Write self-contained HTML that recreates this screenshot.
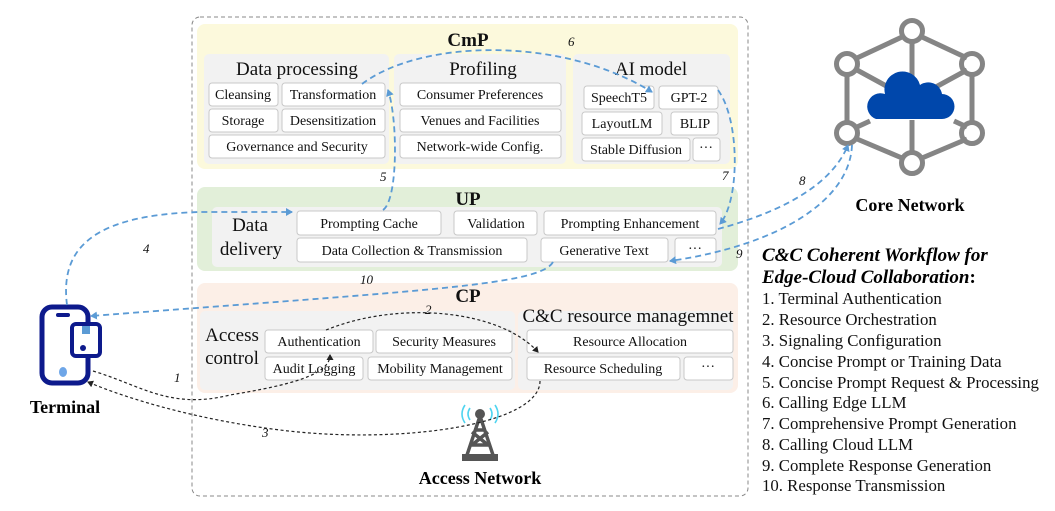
<!DOCTYPE html>
<html><head><meta charset="utf-8"><style>
html,body{margin:0;padding:0;background:#fff;width:1055px;height:511px;overflow:hidden}
svg{display:block;font-family:"Liberation Serif",serif}
.b{fill:#fff;stroke:#c8c8c8;stroke-width:1}
.t{font-size:14px;fill:#111;text-anchor:middle}
.h{font-size:19px;fill:#111}
.bl{fill:none;stroke:#5b9bd5;stroke-width:1.8;stroke-dasharray:6 4}
.bk{fill:none;stroke:#222;stroke-width:1.2;stroke-dasharray:3 2.5}
.n{font-size:13px;font-style:italic;fill:#111}
</style></head><body>
<svg width="1055" height="511" viewBox="0 0 1055 511">
<defs>
<marker id="ab" markerWidth="8" markerHeight="8" refX="6" refY="4" orient="auto" markerUnits="userSpaceOnUse"><path d="M0,0 L7,4 L0,8 Z" fill="#5b9bd5"/></marker>
<marker id="ak" markerWidth="7" markerHeight="7" refX="5" refY="3.5" orient="auto" markerUnits="userSpaceOnUse"><path d="M0,0 L6,3.5 L0,7 Z" fill="#222"/></marker>
</defs>
<rect x="192" y="17" width="556" height="479" rx="8" fill="none" stroke="#888" stroke-dasharray="4 3"/>
<rect x="197" y="24" width="541" height="145" rx="8" fill="#fcf9dc"/>
<text x="468" y="46" class="h" font-weight="bold" text-anchor="middle">CmP</text>
<rect x="204" y="54" width="185" height="110" rx="5" fill="#f2f2f2"/>
<rect x="394" y="54" width="172" height="110" rx="5" fill="#f2f2f2"/>
<rect x="573" y="54" width="157" height="110" rx="5" fill="#f2f2f2"/>
<text x="297" y="75" class="h" text-anchor="middle">Data processing</text>
<text x="483" y="75" class="h" text-anchor="middle">Profiling</text>
<text x="651" y="75" class="h" text-anchor="middle">AI model</text>
<rect class="b" x="209" y="83" width="69" height="23" rx="3"/><text class="t" x="243" y="99">Cleansing</text>
<rect class="b" x="282" y="83" width="103" height="23" rx="3"/><text class="t" x="333" y="99">Transformation</text>
<rect class="b" x="209" y="109" width="69" height="23" rx="3"/><text class="t" x="243" y="125">Storage</text>
<rect class="b" x="282" y="109" width="103" height="23" rx="3"/><text class="t" x="333" y="125">Desensitization</text>
<rect class="b" x="209" y="135" width="176" height="23" rx="3"/><text class="t" x="297" y="151">Governance and Security</text>
<rect class="b" x="400" y="83" width="161" height="23" rx="3"/><text class="t" x="480" y="99">Consumer Preferences</text>
<rect class="b" x="400" y="109" width="161" height="23" rx="3"/><text class="t" x="480" y="125">Venues and Facilities</text>
<rect class="b" x="400" y="135" width="161" height="23" rx="3"/><text class="t" x="480" y="151">Network-wide Config.</text>
<rect class="b" x="584" y="86" width="70" height="23" rx="3"/><text class="t" x="619" y="102">SpeechT5</text>
<rect class="b" x="659" y="86" width="59" height="23" rx="3"/><text class="t" x="689" y="102">GPT-2</text>
<rect class="b" x="582" y="112" width="80" height="23" rx="3"/><text class="t" x="622" y="128">LayoutLM</text>
<rect class="b" x="671" y="112" width="47" height="23" rx="3"/><text class="t" x="695" y="128">BLIP</text>
<rect class="b" x="582" y="138" width="108" height="23" rx="3"/><text class="t" x="636" y="154">Stable Diffusion</text>
<rect class="b" x="693" y="138" width="27" height="23" rx="3"/><text class="t" x="706" y="152">···</text>
<rect x="197" y="187" width="541" height="84" rx="8" fill="#e2efd9"/>
<text x="468" y="205" class="h" font-weight="bold" text-anchor="middle">UP</text>
<rect x="212" y="207" width="510" height="60" rx="5" fill="#f2f2f2"/>
<text x="250" y="231" class="h" text-anchor="middle">Data</text>
<text x="251" y="255" class="h" text-anchor="middle">delivery</text>
<rect class="b" x="297" y="211" width="144" height="24" rx="3"/><text class="t" x="369" y="228">Prompting Cache</text>
<rect class="b" x="454" y="211" width="83" height="24" rx="3"/><text class="t" x="496" y="228">Validation</text>
<rect class="b" x="544" y="211" width="172" height="24" rx="3"/><text class="t" x="630" y="228">Prompting Enhancement</text>
<rect class="b" x="297" y="238" width="230" height="24" rx="3"/><text class="t" x="412" y="255">Data Collection &amp; Transmission</text>
<rect class="b" x="541" y="238" width="127" height="24" rx="3"/><text class="t" x="604" y="255">Generative Text</text>
<rect class="b" x="675" y="238" width="41" height="24" rx="3"/><text class="t" x="695" y="253">···</text>
<rect x="197" y="283" width="541" height="110" rx="8" fill="#fcefe7"/>
<text x="468" y="302" class="h" font-weight="bold" text-anchor="middle">CP</text>
<rect x="200" y="311" width="315" height="79" rx="5" fill="#f2f2f2"/>
<rect x="518" y="311" width="215" height="79" rx="5" fill="#f2f2f2"/>
<text x="232" y="341" class="h" text-anchor="middle">Access</text>
<text x="232" y="364" class="h" text-anchor="middle">control</text>
<text x="628" y="322" class="h" text-anchor="middle">C&amp;C resource managemnet</text>
<rect class="b" x="265" y="330" width="108" height="23" rx="3"/><text class="t" x="319" y="346">Authentication</text>
<rect class="b" x="376" y="330" width="136" height="23" rx="3"/><text class="t" x="444" y="346">Security Measures</text>
<rect class="b" x="265" y="357" width="98" height="23" rx="3"/><text class="t" x="314" y="373">Audit Logging</text>
<rect class="b" x="368" y="357" width="144" height="23" rx="3"/><text class="t" x="440" y="373">Mobility Management</text>
<rect class="b" x="527" y="330" width="206" height="23" rx="3"/><text class="t" x="630" y="346">Resource Allocation</text>
<rect class="b" x="527" y="357" width="153" height="23" rx="3"/><text class="t" x="603" y="373">Resource Scheduling</text>
<rect class="b" x="684" y="357" width="49" height="23" rx="3"/><text class="t" x="708" y="371">···</text>
<rect x="42" y="307" width="46" height="76" rx="10" fill="none" stroke="#0d1a8c" stroke-width="5"/>
<rect x="56" y="313" width="14" height="4" rx="2" fill="#0d1a8c"/>
<rect x="72" y="324" width="28" height="32" rx="4" fill="#fff" stroke="#0d1a8c" stroke-width="4"/>
<rect x="82" y="326" width="8" height="8" fill="#5b9bd5"/>
<circle cx="83" cy="348" r="3" fill="#0d1a8c"/>
<ellipse cx="63" cy="372" rx="4" ry="5" fill="#6ea6e8"/>
<text x="65" y="413" font-size="18" font-weight="bold" text-anchor="middle">Terminal</text>
<g fill="#555" stroke="#555">
<circle cx="480" cy="414" r="4.5"/>
<path d="M480,416 L467,455 M480,416 L493,455 M472,432 L488,445 M488,432 L472,445 M470,445 L490,445 M474,430 L486,430" stroke-width="3.5" fill="none"/>
<rect x="462" y="454" width="36" height="7" stroke="none"/>
</g>
<g fill="none" stroke="#4fd4f0" stroke-width="1.6">
<path d="M470,408 q-4,6 0,12 M465,405 q-6,9 0,18 M490,408 q4,6 0,12 M495,405 q6,9 0,18"/>
</g>
<text x="480" y="484" font-size="18" font-weight="bold" text-anchor="middle">Access Network</text>
<g stroke="#858585" stroke-width="5" fill="none">
<path d="M912,42 L912,78 M912,120 L912,152 M857,70 L890,88 M967,70 L934,88 M857,127 L870,121 M967,127 L954,121 M847,75 L847,122 M972,75 L972,122 M857,58 L902,37 M967,58 L922,37 M857,139 L902,158 M967,139 L922,158"/>
<circle cx="912" cy="31" r="10.5"/><circle cx="847" cy="64" r="10.5"/><circle cx="972" cy="64" r="10.5"/>
<circle cx="847" cy="133" r="10.5"/><circle cx="972" cy="133" r="10.5"/><circle cx="912" cy="163" r="10.5"/>
</g>
<path d="M876,119 L942,119 a12,12 0 0 0 0,-25 a14,14 0 0 0 -22,-9 a18,18 0 0 0 -35,9 a12,12 0 0 0 -9,25 Z" fill="#0047ab"/>
<text x="910" y="211" font-size="18" font-weight="bold" text-anchor="middle">Core Network</text>
<g font-size="19" font-weight="bold" font-style="italic"><text x="762" y="261">C&amp;C Coherent Workflow for</text><text x="762" y="283">Edge-Cloud Collaboration<tspan font-style="normal">:</tspan></text></g>
<g font-size="16.8" fill="#111">
<text x="762" y="304">1. Terminal Authentication</text>
<text x="762" y="325">2. Resource Orchestration</text>
<text x="762" y="346">3. Signaling Configuration</text>
<text x="762" y="367">4. Concise Prompt or Training Data</text>
<text x="762" y="388">5. Concise Prompt Request &amp; Processing</text>
<text x="762" y="408">6. Calling Edge LLM</text>
<text x="762" y="429">7. Comprehensive Prompt Generation</text>
<text x="762" y="450">8. Calling Cloud LLM</text>
<text x="762" y="471">9. Complete Response Generation</text>
<text x="762" y="491">10. Response Transmission</text>
</g>
<path class="bl" d="M67,305 C60,250 90,215 200,212 L292,212" marker-end="url(#ab)"/>
<path class="bl" d="M383,210 C398,200 398,120 388,90" marker-end="url(#ab)"/>
<path class="bl" d="M362,84 C420,40 560,35 652,92" marker-end="url(#ab)"/>
<path class="bl" d="M718,90 C740,120 740,200 720,224" marker-end="url(#ab)"/>
<path class="bl" d="M718,229 C770,215 830,190 848,145" marker-end="url(#ab)"/>
<path class="bl" d="M852,145 C850,200 780,245 670,261" marker-end="url(#ab)"/>
<path class="bl" d="M553,262 C540,285 430,290 91,316" marker-end="url(#ab)"/>
<path class="bk" d="M93,371 C140,385 170,410 230,395 C290,385 330,375 330,355" marker-end="url(#ak)"/>
<path class="bk" d="M326,330 C400,300 500,310 538,352" marker-end="url(#ak)"/>
<path class="bk" d="M540,381 C540,425 400,445 280,430 C200,420 130,400 88,382" marker-end="url(#ak)"/>
<text class="n" x="143" y="253">4</text>
<text class="n" x="380" y="181">5</text>
<text class="n" x="568" y="46">6</text>
<text class="n" x="722" y="180">7</text>
<text class="n" x="799" y="185">8</text>
<text class="n" x="736" y="258">9</text>
<text class="n" x="360" y="284">10</text>
<text class="n" x="174" y="382">1</text>
<text class="n" x="425" y="314">2</text>
<text class="n" x="262" y="437">3</text>
</svg>
</body></html>
